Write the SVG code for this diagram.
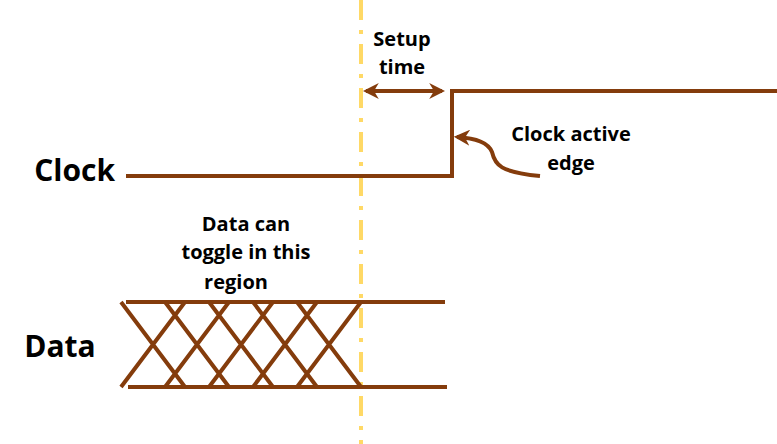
<svg xmlns="http://www.w3.org/2000/svg" width="777" height="444" viewBox="0 0 777 444">
<style>
.w{stroke:#843c0c;stroke-width:4;fill:none}
.t{font-family:"Open Sans","Liberation Sans",sans-serif;font-weight:bold;fill:#000}
</style>
<defs>
<marker id="ah" viewBox="0 0 10 10" refX="8" refY="5" markerWidth="4" markerHeight="4" orient="auto-start-reverse"><path d="M0,0L10,5L0,10L3,5z" fill="#843c0c"/></marker>
</defs>
<rect width="777" height="444" fill="#fff"/>
<line x1="361" y1="0" x2="361" y2="444" stroke="#ffd966" stroke-width="4" stroke-dasharray="20,10,4,10"/>
<g id="clock"><path class="w" d="M126,176H452V91H777"/></g>
<g id="data">
<path class="w" d="M126,302H445M128,387H447"/>
<path class="w" d="M121,302L185,387M165,302L229,387M209,302L273,387M253,302L317,387M297,302L361,387M121,387L185,302M165,387L229,302M209,387L273,302M253,387L317,302M297,387L361,302"/>
</g>
<g id="connectors">
<line class="w" x1="366" y1="91" x2="442" y2="91" marker-start="url(#ah)" marker-end="url(#ah)"/>
<path class="w" d="M540,176C500,172 495,165 492,152C488,142 475,138 457,137" marker-end="url(#ah)"/>
</g>
<text class="t" x="127" y="181" font-size="30" text-anchor="end" dx="-12">Clock</text>
<text class="t" x="60" y="357" font-size="30" text-anchor="middle">Data</text>
<text class="t" x="402" y="46" font-size="20" text-anchor="middle">Setup</text>
<text class="t" x="402" y="74" font-size="20" text-anchor="middle">time</text>
<text class="t" x="571" y="141" font-size="20" text-anchor="middle">Clock active</text>
<text class="t" x="571" y="170" font-size="20" text-anchor="middle">edge</text>
<text class="t" x="246" y="231" font-size="20" text-anchor="middle">Data can</text>
<text class="t" x="246" y="259" font-size="20" text-anchor="middle">toggle in this</text>
<text class="t" x="236" y="289" font-size="20" text-anchor="middle">region</text>
</svg>
